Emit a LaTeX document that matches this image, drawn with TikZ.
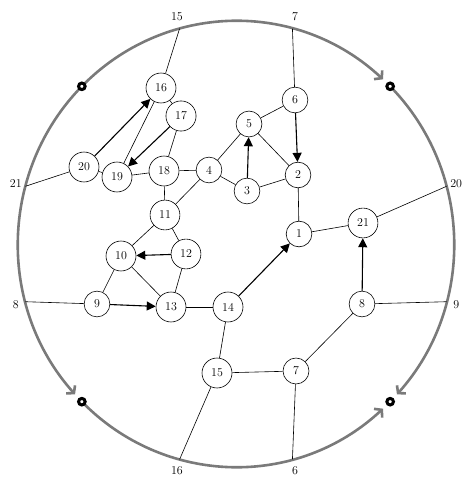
\documentclass[tikz,border=0pt]{standalone}
\usetikzlibrary{arrows.meta}
\begin{document}
\begin{tikzpicture}[x=1pt,y=-1pt,
  vtx/.style={circle,draw,line width=0.6pt,inner sep=5.6pt,fill=white,font=\fontsize{12}{14}\selectfont},
  edge/.style={line width=0.6pt},
  arr/.style={line width=1.1pt,-{Triangle[length=9pt,width=9pt]}},
  rim/.style={draw=black!52,line width=2.6pt,-{Straight Barb[length=5pt,width=12pt]}},
  lbl/.style={font=\fontsize{12}{14}\selectfont,inner sep=0pt},
  ring/.style={circle,draw,line width=3pt,inner sep=0pt,minimum size=6.6pt,fill=white}]
\useasboundingbox (0,0) rectangle (474,486);
\coordinate (c) at (236,244);
% boundary points
\path (c) ++(-105:218 and 223) coordinate (b105);
\path (c) ++(-75:218 and 223) coordinate (b75);
\path (c) ++(-165:218 and 223) coordinate (b165);
\path (c) ++(-15:218 and 223) coordinate (b15);
\path (c) ++(-195:218 and 223) coordinate (b195);
\path (c) ++(-345:218 and 223) coordinate (b345);
\path (c) ++(-255:218 and 223) coordinate (b255);
\path (c) ++(-285:218 and 223) coordinate (b285);
\path (c) ++(-135:218 and 223) coordinate (m135);
\path (c) ++(-45:218 and 223) coordinate (m45);
\path (c) ++(-225:218 and 223) coordinate (m225);
\path (c) ++(-315:218 and 223) coordinate (m315);
% rim arcs
\draw[rim] (m135) arc[start angle=-135,end angle=-47.6,x radius=218,y radius=223];
\draw[rim] (m135) arc[start angle=-135,end angle=-222.4,x radius=218,y radius=223];
\draw[rim] (m45) arc[start angle=-45,end angle=42.4,x radius=218,y radius=223];
\draw[rim] (m225) arc[start angle=-225,end angle=-312.4,x radius=218,y radius=223];
% markers
\node[ring] (r135) at (m135) {};
\node[ring] (r45) at (m45) {};
\node[ring] (r225) at (m225) {};
\node[ring] (r315) at (m315) {};
% boundary labels
\path (c) ++(-105:228 and 235) node[lbl] (l105) {15};
\path (c) ++(-75:228 and 235) node[lbl] (l75) {7};
\path (c) ++(-165:228 and 235) node[lbl] (l165) {21};
\path (c) ++(-15:228 and 235) node[lbl] (l15) {20};
\path (c) ++(-195:228 and 235) node[lbl] (l195) {8};
\path (c) ++(-345:228 and 235) node[lbl] (l345) {9};
\path (c) ++(-255:228 and 235) node[lbl] (l255) {16};
\path (c) ++(-285:228 and 235) node[lbl] (l285) {6};
% vertices
\node[vtx] (v16) at (161,88) {16};
\node[vtx] (v17) at (181,116) {17};
\node[vtx] (v20) at (84,167) {20};
\node[vtx] (v19) at (117,177) {19};
\node[vtx] (v18) at (164,171) {18};
\node[vtx] (v4) at (209,170) {4};
\node[vtx] (v11) at (165,215) {11};
\node[vtx] (v6) at (295,100) {6};
\node[vtx] (v5) at (249,124) {5};
\node[vtx] (v2) at (298,175) {2};
\node[vtx] (v3) at (247,191) {3};
\node[vtx] (v21) at (363,223) {21};
\node[vtx] (v1) at (299,234) {1};
\node[vtx] (v12) at (186,254) {12};
\node[vtx] (v10) at (121,256) {10};
\node[vtx] (v9) at (97,304) {9};
\node[vtx] (v13) at (171,307) {13};
\node[vtx] (v14) at (228,307) {14};
\node[vtx] (v15) at (217,373) {15};
\node[vtx] (v7) at (296,371) {7};
\node[vtx] (v8) at (362,304) {8};
% plain edges
\draw[edge] (v16) -- (b105);
\draw[edge] (v6) -- (b75);
\draw[edge] (v20) -- (b165);
\draw[edge] (v21) -- (b15);
\draw[edge] (v9) -- (b195);
\draw[edge] (v8) -- (b345);
\draw[edge] (v15) -- (b255);
\draw[edge] (v7) -- (b285);
\draw[edge] (v16) -- (v17);
\draw[edge] (v16) -- (v19);
\draw[edge] (v17) -- (v18);
\draw[edge] (v20) -- (v19);
\draw[edge] (v19) -- (v18);
\draw[edge] (v18) -- (v4);
\draw[edge] (v18) -- (v11);
\draw[edge] (v4) -- (v11);
\draw[edge] (v4) -- (v5);
\draw[edge] (v4) -- (v3);
\draw[edge] (v5) -- (v6);
\draw[edge] (v5) -- (v2);
\draw[edge] (v3) -- (v2);
\draw[edge] (v2) -- (v1);
\draw[edge] (v1) -- (v21);
\draw[edge] (v8) -- (v7);
\draw[edge] (v7) -- (v15);
\draw[edge] (v15) -- (v14);
\draw[edge] (v14) -- (v13);
\draw[edge] (v13) -- (v12);
\draw[edge] (v13) -- (v10);
\draw[edge] (v11) -- (v12);
\draw[edge] (v11) -- (v10);
\draw[edge] (v10) -- (v9);
% arrows
\draw[arr] (v20) -- (v16);
\draw[arr] (v17) -- (v19);
\draw[arr] (v6) -- (v2);
\draw[arr] (v3) -- (v5);
\draw[arr] (v12) -- (v10);
\draw[arr] (v9) -- (v13);
\draw[arr] (v14) -- (v1);
\draw[arr] (v8) -- (v21);
\end{tikzpicture}
\end{document}
